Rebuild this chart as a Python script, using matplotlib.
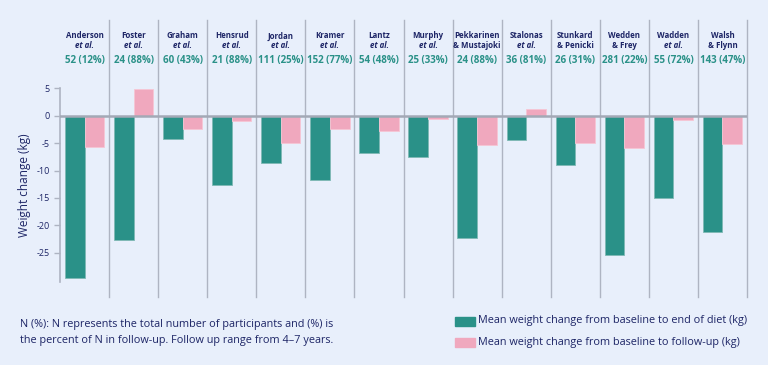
import matplotlib.pyplot as plt
import matplotlib.transforms as mtransforms
import matplotlib.patches as mpatches
import numpy as np

plt.rcParams['font.family'] = ['Open Sans', 'DejaVu Sans']
plt.rcParams['axes.unicode_minus'] = False

# study labels (two lines) and N (%)
names_top = ['Anderson', 'Foster', 'Graham', 'Hensrud', 'Jordan', 'Kramer', 'Lantz',
             'Murphy', 'Pekkarinen', 'Stalonas', 'Stunkard', 'Wedden', 'Wadden', 'Walsh']
names_bottom = ['et al.', 'et al.', 'et al.', 'et al.', 'et al.', 'et al.', 'et al.',
                'et al.', '& Mustajoki', 'et al.', '& Penicki', '& Frey', 'et al.', '& Flynn']
n_labels = ['52 (12%)', '24 (88%)', '60 (43%)', '21 (88%)', '111 (25%)', '152 (77%)', '54 (48%)',
            '25 (33%)', '24 (88%)', '36 (81%)', '26 (31%)', '281 (22%)', '55 (72%)', '143 (47%)']

end_of_diet = [-29.6, -22.6, -4.3, -12.6, -8.6, -11.7, -6.7,
               -7.6, -22.4, -4.5, -9.0, -25.5, -15.0, -21.2]
follow_up = [-5.7, 4.9, -2.4, -1.0, -5.0, -2.4, -2.7,
             -0.5, -5.4, 1.2, -5.0, -5.8, -0.7, -5.1]

bg = '#E8EFFB'
green = '#2A9188'
pink = '#F0A8BE'
navy = '#1D2566'
grey = '#AEB4C2'

fig = plt.figure(figsize=(7.68, 3.65), dpi=100, facecolor=bg)
ax = fig.add_axes([60 / 768, 1 - 280 / 365, 687 / 768, 191.5 / 365])
ax.set_facecolor(bg)

x = np.arange(len(names_top)) + 0.5
w = 0.4
ax.bar(x - w / 2, end_of_diet, w, color=green, edgecolor='#7FB9B4', linewidth=0.6, zorder=3)
ax.bar(x + w / 2, follow_up, w, color=pink, edgecolor='#F6C6D4', linewidth=0.6, zorder=3)

ax.set_xlim(0, len(names_top))
ax.set_ylim(-30, 5)
ax.set_yticks([5, 0, -5, -10, -15, -20, -25])
ax.set_xticks([])
ax.tick_params(axis='y', colors=grey, length=4, width=1, labelcolor=navy, labelsize=6.5)
for s in ['top', 'right', 'bottom']:
    ax.spines[s].set_visible(False)
ax.spines['left'].set_color(grey)
ax.spines['left'].set_linewidth(1.2)
ax.spines['left'].set_bounds(-30.3, 5)

# zero line
ax.axhline(0, color='#A3A9B6', lw=1.8, zorder=4)

# group dividers
for i in range(1, len(names_top) + 1):
    ax.axvline(i, ymin=-0.089, ymax=1.358, color=grey, lw=1, clip_on=False, zorder=1)

# header text
trans = mtransforms.blended_transform_factory(ax.transData, fig.transFigure)
for i in range(len(names_top)):
    ax.text(x[i], 1 - 36 / 365, names_top[i], transform=trans, ha='center', va='center',
            fontsize=5.7, fontweight='bold', color=navy)
    style = 'italic' if names_bottom[i] == 'et al.' else 'normal'
    ax.text(x[i], 1 - 45 / 365, names_bottom[i], transform=trans, ha='center', va='center',
            fontsize=5.7, fontweight='bold', fontstyle=style, color=navy)
    ax.text(x[i], 1 - 60 / 365, n_labels[i], transform=trans, ha='center', va='center',
            fontsize=7.0, fontweight='bold', color=green)

fig.text(25 / 768, 1 - 185 / 365, 'Weight change (kg)', rotation=90, ha='center', va='center',
         fontsize=8.5, color=navy)

fig.text(20 / 768, 1 - 324 / 365, 'N (%): N represents the total number of participants and (%) is',
         ha='left', va='center', fontsize=7.8, color=navy)
fig.text(20 / 768, 1 - 340 / 365, 'the percent of N in follow-up. Follow up range from 4–7 years.',
         ha='left', va='center', fontsize=7.8, color=navy)

# legend
for yy, col, lab in [(321, green, 'Mean weight change from baseline to end of diet (kg)'),
                     (342, pink, 'Mean weight change from baseline to follow-up (kg)')]:
    fig.patches.append(mpatches.Rectangle((455 / 768, 1 - (yy + 4.5) / 365), 20 / 768, 9 / 365,
                                          transform=fig.transFigure, color=col))
    fig.text(478 / 768, 1 - yy / 365, lab, ha='left', va='center', fontsize=7.8, color=navy)

fig.savefig('out.png', dpi=100, facecolor=bg)
